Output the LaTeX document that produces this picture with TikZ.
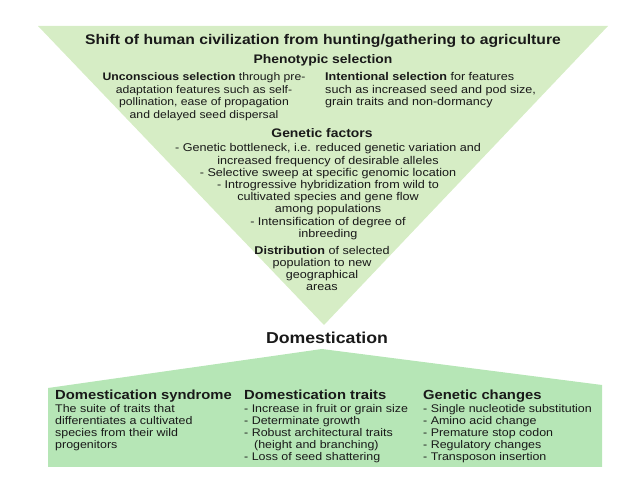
\documentclass[tikz,border=0pt]{standalone}
\usepackage{fontspec}
\setmainfont{Liberation Sans}[FakeStretch=1.12]
\usepackage{tikz}
\usetikzlibrary{positioning}
\definecolor{funnelgreen}{RGB}{214,237,197}
\definecolor{basegreen}{RGB}{182,230,182}
\definecolor{inkgray}{RGB}{25,25,25}
\tikzset{
  title/.style={font=\bfseries\fontsize{14}{16}\selectfont, text=inkgray, inner sep=0pt},
  heading/.style={font=\bfseries\fontsize{12.4}{14}\selectfont, text=inkgray, inner sep=0pt},
  body/.style={font=\fontsize{11.25}{12.4}\selectfont, text=inkgray, align=center, inner sep=0pt},
  colhead/.style={font=\bfseries\fontsize{13.2}{15}\selectfont, text=inkgray, inner sep=0pt, anchor=base west},
  colbody/.style={font=\fontsize{11.1}{12}\selectfont, text=inkgray, align=left, inner sep=0pt, anchor=north west},
}

\begin{document}
\begin{tikzpicture}[x=1pt, y=-1pt]
\useasboundingbox (0,0) rectangle (638,478);

% funnel and base
\fill[funnelgreen] (38,26) -- (608,26) -- (324,325) -- cycle;
\fill[basegreen] (48,388) -- (322,349) -- (602,385) -- (602,467) -- (48,467) -- cycle;

% funnel text
\node[title] (shift) at (323,41) {Shift of human civilization from hunting/gathering to agriculture};
\node[heading] (pheno) at (323,60) {Phenotypic selection};
\node[body, font=\fontsize{10.9}{12.5}\selectfont, anchor=north] (uncons) at (204,72.5) {\textbf{Unconscious selection} through pre-\\adaptation features such as self-\\pollination, ease of propagation\\and delayed seed dispersal};
\node[body, align=left, anchor=north west] (intent) at (325,72.5) {\textbf{Intentional selection} for features\\such as increased seed and pod size,\\grain traits and non-dormancy};
\node[heading] (genetic) at (322,133) {Genetic factors};
\node[body, font=\fontsize{11.25}{12.2}\selectfont, anchor=north] (factors) at (328,143.5) {- Genetic bottleneck, i.e. reduced genetic variation and\\increased frequency of desirable alleles\\- Selective sweep at specific genomic location\\- Introgressive hybridization from wild to\\cultivated species and gene flow\\among populations\\- Intensification of degree of\\inbreeding};
\node[body, font=\fontsize{11.25}{11.8}\selectfont, anchor=north] (distrib) at (322,246.5) {\textbf{Distribution} of selected\\population to new\\geographical\\areas};

% base text
\node[title, font=\bfseries\fontsize{15.8}{18}\selectfont] (domest) at (327,338) {Domestication};
\node[colhead] (syndrome) at (55,400) {Domestication syndrome};
\node[colbody] (syndromeb) at ([yshift=-4pt]syndrome.base west) {The suite of traits that\\differentiates a cultivated\\species from their wild\\progenitors};
\node[colhead] (traits) at (244,400) {Domestication traits};
\node[colbody] (traitsb) at ([yshift=-4pt]traits.base west) {- Increase in fruit or grain size\\- Determinate growth\\- Robust architectural traits\\\hspace*{0.9em}(height and branching)\\- Loss of seed shattering};
\node[colhead] (changes) at (423,400) {Genetic changes};
\node[colbody] (changesb) at ([yshift=-4pt]changes.base west) {- Single nucleotide substitution\\- Amino acid change\\- Premature stop codon\\- Regulatory changes\\- Transposon insertion};
\end{tikzpicture}
\end{document}
